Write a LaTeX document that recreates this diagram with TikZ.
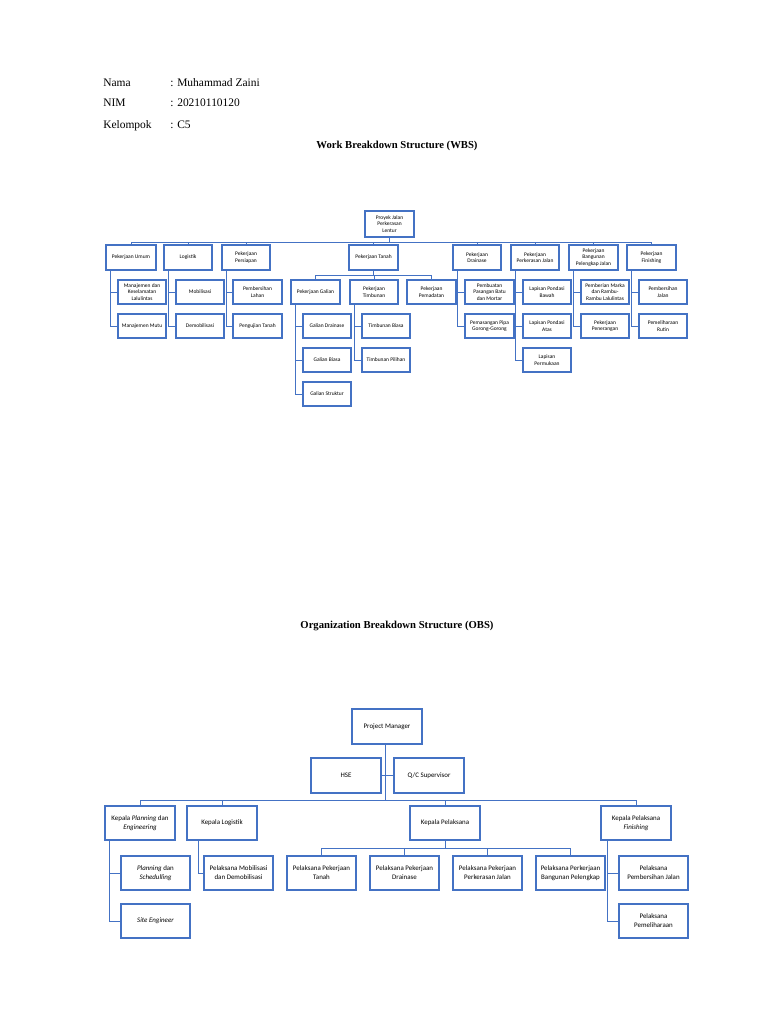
\documentclass[tikz,border=0pt]{standalone}
\usepackage{fontspec}
\setmainfont{Liberation Serif}
\newfontfamily\calf{Carlito}
\usetikzlibrary{calc}
\definecolor{bl}{HTML}{4472C4}
\begin{document}
\begin{tikzpicture}[x=0.75pt,y=-0.75pt,
  box/.style={draw=bl,line width=0.9pt,fill=white,inner sep=0pt,align=center,font=\calf\fontsize{4.1}{4.9}\selectfont},
  obox/.style={box,font=\calf\fontsize{5.2}{6.6}\selectfont},
  ln/.style={draw=bl,line width=0.7pt},
  hd/.style={anchor=base west,font=\fontsize{8.6}{10}\selectfont,inner sep=0pt}]
\useasboundingbox (0,0) rectangle (768,1024);
\newcommand{\bx}[7][box]{\node[#1,minimum width={(#4-#2)*0.75pt},minimum height={(#5-#3)*0.75pt}] (#6) at ({(#2+#4)/2},{(#3+#5)/2}) {#7};}
% header
\node[hd] (n1) at (103,86) {Nama};
\node[hd] (n2) at (103,107) {NIM};
\node[hd] (n3) at (103,128) {Kelompok};
\node[hd] (v1) at (170,86) {: Muhammad Zaini};
\node[hd] (v2) at (170,107) {: 20210110120};
\node[hd] (v3) at (170,128) {: C5};
\node[font=\bfseries\fontsize{8}{10}\selectfont] (t1) at (397,146) {Work Breakdown Structure (WBS)};
\node[font=\bfseries\fontsize{8}{10}\selectfont] (t2) at (397,626) {Organization Breakdown Structure (OBS)};
% WBS
\bx{365}{211}{414}{237}{root}{Proyek Jalan\\Perkerasan\\Lentur}
\bx{106}{245}{156}{270}{pu}{Pekerjaan Umum}
\bx{164}{245}{212}{270}{lg}{Logistik}
\bx{222}{245}{270}{270}{pp}{Pekerjaan\\Persiapan}
\bx{349}{245}{398}{270}{pt}{Pekerjaan Tanah}
\bx{453}{245}{501}{270}{pd}{Pekerjaan\\Drainase}
\bx{511}{245}{559}{270}{pk}{Pekerjaan\\Perkerasan Jalan}
\bx{569}{245}{618}{270}{pb}{Pekerjaan\\Bangunan\\Pelengkap Jalan}
\bx{627}{245}{676}{270}{pf}{Pekerjaan\\Finishing}
\foreach \c in {pu,lg,pp,pt,pd,pk,pb,pf}{\draw[ln] (root.south) -- ++(0,5) -| (\c.north);}
% umum
\bx{118}{280}{166}{304}{u1}{Manajemen dan\\Keselamatan\\Lalulintas}
\bx{118}{314}{166}{338}{u2}{Manajemen Mutu}
\bx{176}{280}{224}{304}{l1}{Mobilisasi}
\bx{176}{314}{224}{338}{l2}{Demobilisasi}
\bx{233}{280}{282}{304}{p1}{Pembersihan\\Lahan}
\bx{233}{314}{282}{338}{p2}{Pengujian Tanah}
\foreach \p/\a/\b in {pu/u1/u2,lg/l1/l2,pp/p1/p2}{
 \draw[ln] ($(\p.south west)+(5,0)$) |- (\b.west);
 \draw[ln] ($(\p.south west)+(5,0)$) |- (\a.west);}
% tanah
\bx{291}{280}{340}{304}{g}{Pekerjaan Galian}
\bx{350}{280}{398}{304}{tb}{Pekerjaan\\Timbunan}
\bx{407}{280}{456}{304}{pm}{Pekerjaan\\Pemadatan}
\foreach \c in {g,tb,pm}{\draw[ln] (pt.south) -- ++(0,5) -| (\c.north);}
\bx{303}{314}{351}{338}{g1}{Galian Drainase}
\bx{303}{348}{351}{372}{g2}{Galian Biasa}
\bx{303}{382}{351}{406}{g3}{Galian Struktur}
\foreach \c in {g1,g2,g3}{\draw[ln] ($(g.south west)+(5,0)$) |- (\c.west);}
\bx{362}{314}{410}{338}{t1b}{Timbunan Biasa}
\bx{362}{348}{410}{372}{t2b}{Timbunan Pilihan}
\foreach \c in {t1b,t2b}{\draw[ln] ($(tb.south west)+(5,0)$) |- (\c.west);}
% drainase etc
\bx{465}{280}{514}{304}{d1}{Pembuatan\\Pasangan Batu\\dan Mortar}
\bx{465}{314}{514}{338}{d2}{Pemasangan Pipa\\Gorong-Gorong}
\bx{523}{280}{571}{304}{k1}{Lapisan Pondasi\\Bawah}
\bx{523}{314}{571}{338}{k2}{Lapisan Pondasi\\Atas}
\bx{523}{348}{571}{372}{k3}{Lapisan\\Permukaan}
\bx{581}{280}{629}{304}{b1}{Pemberian Marka\\dan Rambu-\\Rambu Lalulintas}
\bx{581}{314}{629}{338}{b2}{Pekerjaan\\Penerangan}
\bx{639}{280}{687}{304}{f1}{Pembersihan\\Jalan}
\bx{639}{314}{687}{338}{f2}{Pemeliharaan\\Rutin}
\foreach \p/\c in {pd/d1,pd/d2,pk/k1,pk/k2,pk/k3,pb/b1,pb/b2,pf/f1,pf/f2}{\draw[ln] ($(\p.south west)+(5,0)$) |- (\c.west);}
% OBS
\bx[obox]{352}{709}{422}{744}{pmg}{Project Manager}
\bx[obox]{311}{758}{381}{793}{hse}{HSE}
\bx[obox]{394}{758}{464}{793}{qc}{Q/C Supervisor}
\draw[ln] (hse.east) -- (qc.west);
\bx[obox]{105}{806}{175}{840}{kp}{Kepala \textit{Planning} dan\\\textit{Engineering}}
\bx[obox]{187}{806}{257}{840}{kl}{Kepala Logistik}
\bx[obox]{410}{806}{480}{840}{kpl}{Kepala Pelaksana}
\bx[obox]{601}{806}{671}{840}{kf}{Kepala Pelaksana\\\textit{Finishing}}
\foreach \c in {kp,kl,kpl,kf}{\draw[ln] ($(pmg.south)+(-2,0)$) -- ++(0,56) -| (\c.north);}
\bx[obox]{121}{856}{190}{890}{ps}{\textit{Planning} dan\\\textit{Schedulling}}
\bx[obox]{121}{904}{190}{938}{se}{\textit{Site Engineer}}
\bx[obox]{204}{856}{273}{890}{pmd}{Pelaksana Mobilisasi\\dan Demobilisasi}
\bx[obox]{287}{856}{356}{890}{x1}{Pelaksana Pekerjaan\\Tanah}
\bx[obox]{370}{856}{439}{890}{x2}{Pelaksana Pekerjaan\\Drainase}
\bx[obox]{453}{856}{522}{890}{x3}{Pelaksana Pekerjaan\\Perkerasan Jalan}
\bx[obox]{536}{856}{605}{890}{x4}{Pelaksana Perkerjaan\\Bangunan Pelengkap}
\bx[obox]{619}{856}{688}{890}{fj}{Pelaksana\\Pembersihan Jalan}
\bx[obox]{619}{904}{688}{938}{fr}{Pelaksana\\Pemeliharaan}
\foreach \c in {ps,se}{\draw[ln] ($(kp.south west)+(5,0)$) |- (\c.west);}
\draw[ln] ($(kl.south west)+(12,0)$) |- (pmd.west);
\foreach \c in {fj,fr}{\draw[ln] ($(kf.south west)+(7,0)$) |- (\c.west);}
\foreach \c in {x1,x2,x3,x4}{\draw[ln] (kpl.south) -- ++(0,8) -| (\c.north);}
\end{tikzpicture}
\end{document}
